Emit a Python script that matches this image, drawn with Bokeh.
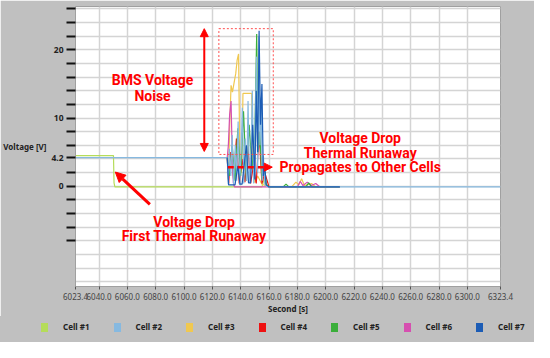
from bokeh.plotting import figure
from bokeh.layouts import column
from bokeh.models import (FixedTicker, PrintfTickFormatter, Range1d, Label, Arrow,
                          NormalHead, Div)
from bokeh.embed import file_html
from bokeh.resources import INLINE

# ---------------- data ----------------
cell_names = ["Cell #1", "Cell #2", "Cell #3", "Cell #4", "Cell #5", "Cell #6", "Cell #7"]
cell_colors = ["#b5dc5a", "#86b9e0", "#f0c850", "#ee1111", "#3aae3a", "#d64fb0", "#1c5cb5"]

cell1_t = [6023.4, 6050.2, 6050.6, 6051.2, 6130.0, 6155.0, 6156.5, 6158.0, 6160.0, 6175.0, 6210.0]
cell1_v = [4.5, 4.5, 0.5, -0.1, -0.1, -0.1, 1.0, 0.2, -0.1, -0.1, -0.1]

cell2_t = [6023.4, 6130.5, 6131.2, 6132.0, 6133.0, 6134.0, 6135.0, 6136.2, 6137.2, 6138.2, 6139.2,
           6140.2, 6141.2, 6142.2, 6143.2, 6144.2, 6145.2, 6146.2, 6147.2, 6148.2, 6149.2, 6150.2,
           6151.2, 6152.0, 6152.8, 6153.6, 6154.4, 6155.2, 6156.0, 6157.0, 6158.0, 6160.0, 6323.4]
cell2_v = [4.2, 4.2, 0.3, 5.5, 1.5, 7.5, 0.3, 6.0, 0.8, 9.5, 0.2,
           4.5, 11.5, 0.4, 7.0, 0.8, 12.5, 0.5, 3.5, 14.0, 0.4, 9.0,
           19.0, 2.0, 22.0, 6.0, 13.0, 0.8, 4.5, 0.3, 0.0, -0.1, -0.1]

cell3_t = [6130.5, 6131.3, 6132.3, 6133.2, 6134.2, 6135.2, 6136.5, 6137.5, 6138.5, 6139.3, 6140.2,
           6141.0, 6141.6, 6147.8, 6148.4, 6149.2, 6150.0, 6152.0, 6155.0, 6160.0, 6176.0, 6179.0,
           6181.0, 6183.0, 6185.0, 6190.0, 6193.0, 6210.0]
cell3_v = [4.2, 1.0, 9.0, 14.8, 13.8, 15.0, 16.5, 18.5, 19.4, 6.0, 2.0,
           4.0, 13.6, 13.6, 2.0, 4.0, 0.5, 1.5, 0.3, -0.1, -0.1, 0.6,
           0.2, 1.1, 0.1, 0.4, -0.1, -0.1]

cell4_t = [6130.5, 6131.5, 6133.0, 6135.0, 6137.0, 6139.0, 6141.0, 6143.0, 6145.0, 6147.0, 6149.0,
           6151.0, 6153.0, 6155.0, 6157.0, 6160.0, 6210.0]
cell4_v = [4.2, 0.4, 5.0, 1.0, 7.0, 0.4, 4.0, 0.6, 6.0, 0.4, 3.0,
           0.4, 8.0, 0.4, 2.0, -0.1, -0.1]

cell5_t = [6130.5, 6132.0, 6134.0, 6136.0, 6138.0, 6140.0, 6142.0, 6144.0, 6146.0, 6148.0, 6150.0,
           6151.3, 6152.3, 6153.5, 6155.0, 6156.5, 6158.0, 6160.0, 6170.0, 6172.0, 6174.0, 6186.0,
           6188.0, 6190.0, 6210.0]
cell5_v = [4.2, 1.5, 6.0, 0.8, 8.5, 1.5, 11.0, 0.8, 9.0, 2.5, 7.5,
           22.3, 5.0, 8.0, 1.0, 3.0, 0.3, -0.1, -0.1, 0.3, -0.1, -0.1,
           0.5, -0.1, -0.1]

cell6_t = [6130.5, 6131.3, 6132.2, 6133.2, 6134.0, 6134.8, 6135.6, 6160.0, 6180.0, 6182.0, 6184.0,
           6187.0, 6190.0, 6193.0, 6196.0, 6210.0]
cell6_v = [4.2, 6.0, 10.5, 12.5, 5.0, 0.5, -0.1, -0.1, -0.1, 0.7, 0.1,
           0.6, 0.1, 0.4, -0.1, -0.1]

cell7_t = [6130.5, 6131.5, 6136.0, 6138.0, 6139.5, 6141.0, 6144.0, 6145.5, 6147.0, 6148.5, 6150.0,
           6151.0, 6152.0, 6153.0, 6154.0, 6155.0, 6156.0, 6157.0, 6158.0, 6160.0, 6210.0]
cell7_v = [4.2, 0.2, 0.2, 3.0, 0.3, 0.3, 6.0, 0.5, 0.5, 9.0, 1.0,
           14.0, 5.0, 22.8, 9.0, 15.0, 1.5, 3.0, 0.2, -0.1, -0.1]

series_t = [cell1_t, cell2_t, cell3_t, cell4_t, cell5_t, cell6_t, cell7_t]
series_v = [cell1_v, cell2_v, cell3_v, cell4_v, cell5_v, cell6_v, cell7_v]

x_ticks = [6023.4, 6040, 6060, 6080, 6100, 6120, 6140, 6160, 6180, 6200, 6220, 6240, 6260, 6280, 6300, 6323.4]
y_ticks = [0, 4.2, 10, 20]
y_minor = [-8, -6, -4, -2, 2, 6, 8, 12, 14, 16, 18, 22, 24, 26]
y_grid = list(range(-14, 27, 2))
x_grid = [6040, 6060, 6080, 6100, 6120, 6140, 6160, 6180, 6200, 6220, 6240, 6260, 6280, 6300]

# ---------------- main figure ----------------
GRAY = "#c0c0c0"
p = figure(width=534, height=316, output_backend="svg", toolbar_location=None,
           x_range=Range1d(6023.4, 6323.4), y_range=Range1d(-14.7, 26.35),
           min_border_left=70, min_border_right=34, min_border_top=6, min_border_bottom=28)
p.border_fill_color = GRAY
p.background_fill_color = "white"
p.outline_line_color = "#a0a0a0"

# y axis
p.yaxis.ticker = FixedTicker(ticks=y_ticks, minor_ticks=y_minor)
p.yaxis.major_label_overrides = {0: "0", 4.2: "4.2", 10: "10", 20: "20"}
p.yaxis.major_tick_out = 9
p.yaxis.major_tick_in = 0
p.yaxis.minor_tick_out = 9
p.yaxis.minor_tick_in = 0
p.yaxis.major_tick_line_width = 2
p.yaxis.minor_tick_line_width = 2
p.yaxis.major_tick_line_color = "#111111"
p.yaxis.minor_tick_line_color = "#111111"
p.yaxis.axis_line_color = "#a0a0a0"
p.yaxis.major_label_standoff = 3
p.yaxis.major_label_text_font = "Noto Sans"
p.yaxis.major_label_text_font_style = "bold"
p.yaxis.major_label_text_font_size = "8.5px"
p.yaxis.major_label_text_color = "#222222"
p.yaxis.axis_label = "Voltage [V]"
p.yaxis.axis_label_orientation = "horizontal"
p.yaxis.axis_label_standoff = 2
p.yaxis.axis_label_text_font = "Noto Sans"
p.yaxis.axis_label_text_font_style = "bold"
p.yaxis.axis_label_text_font_size = "8px"
p.yaxis.axis_label_text_color = "#222222"

# x axis
p.xaxis.ticker = FixedTicker(ticks=x_ticks)
p.xaxis.formatter = PrintfTickFormatter(format="%.1f")
p.xaxis.major_tick_out = 3
p.xaxis.major_tick_in = 0
p.xaxis.minor_tick_out = 0
p.xaxis.minor_tick_in = 0
p.xaxis.major_tick_line_color = "#555555"
p.xaxis.axis_line_color = "#a0a0a0"
p.xaxis.major_label_standoff = 3
p.xaxis.major_label_text_font = "Noto Sans"
p.xaxis.major_label_text_font_size = "8px"
p.xaxis.major_label_text_color = "#444444"
p.xaxis.axis_label = "Second [s]"
p.xaxis.axis_label_standoff = 0
p.xaxis.axis_label_text_font = "Noto Sans"
p.xaxis.axis_label_text_font_style = "bold"
p.xaxis.axis_label_text_font_size = "8px"
p.xaxis.axis_label_text_color = "#222222"

p.xgrid.ticker = FixedTicker(ticks=x_grid)
p.ygrid.ticker = FixedTicker(ticks=y_grid)
p.xgrid.grid_line_color = "#d4d4d4"
p.ygrid.grid_line_color = "#d4d4d4"
p.xgrid.grid_line_width = 1.5
p.ygrid.grid_line_width = 1.5

# lines
order = [0, 2, 3, 5, 4, 1, 6]
for i in order:
    p.line(series_t[i], series_v[i], line_color=cell_colors[i], line_width=1.2)

# annotations
RED = "#ff0000"
def red_text(x, y, s):
    p.add_layout(Label(x=x, y=y, text=s, text_align="center", text_baseline="middle",
                       text_font="Roboto", text_font_style="bold", text_font_size="14px",
                       text_color=RED))

red_text(6077.8, 15.6, "BMS Voltage")
red_text(6077.8, 13.2, "Noise")
red_text(6107.1, -5.2, "Voltage Drop")
red_text(6107.1, -7.3, "First Thermal Runaway")
red_text(6224.4, 7.1, "Voltage Drop")
red_text(6224.4, 4.8, "Thermal Runaway")
red_text(6224.4, 2.75, "Propagates to Other Cells")

# dotted noise box
p.line([6124.6, 6163.0, 6163.0, 6124.6, 6124.6], [23.1, 23.1, 4.66, 4.66, 23.1],
       line_color="#ff5050", line_width=1, line_dash="2 2")

# double-headed vertical arrow
p.add_layout(Arrow(start=NormalHead(size=8, fill_color=RED, line_color=RED),
                   end=NormalHead(size=8, fill_color=RED, line_color=RED),
                   x_start=6114.3, y_start=5.1, x_end=6114.3, y_end=23.1,
                   line_color=RED, line_width=2))
# dashed propagation arrow
p.add_layout(Arrow(end=NormalHead(size=8, fill_color=RED, line_color=RED),
                   x_start=6130.9, y_start=2.8, x_end=6162.3, y_end=2.8,
                   line_color=RED, line_width=2.5, line_dash="6 4"))
# first thermal runaway arrow
p.add_layout(Arrow(end=NormalHead(size=10, fill_color=RED, line_color=RED),
                   x_start=6075.9, y_start=-2.66, x_end=6051.5, y_end=2.08,
                   line_color=RED, line_width=3))

# ---------------- legend strip (HTML) ----------------
parts = []
for i, (name, col) in enumerate(zip(cell_names, cell_colors)):
    left = 41 + i * 72.5
    parts.append(
        f'<span style="position:absolute;left:{left:.1f}px;top:7px;width:7px;height:9px;'
        f'background:{col};"></span>'
        f'<span style="position:absolute;left:{left + 22:.1f}px;top:5px;line-height:12px;'
        f'white-space:nowrap;">{name}</span>')
legend_html = (f'<div style="position:relative;width:534px;height:26px;background:{GRAY};'
               "font-family:'Noto Sans';font-weight:bold;font-size:8px;color:#222222;\">"
               + "".join(parts) + "</div>")
legend_div = Div(text=legend_html, width=534, height=26, margin=(0, 0, 0, 0),
                 styles={"background-color": GRAY})

layout = column(p, legend_div, spacing=0)
open("out.html", "w").write(file_html(layout, INLINE))
